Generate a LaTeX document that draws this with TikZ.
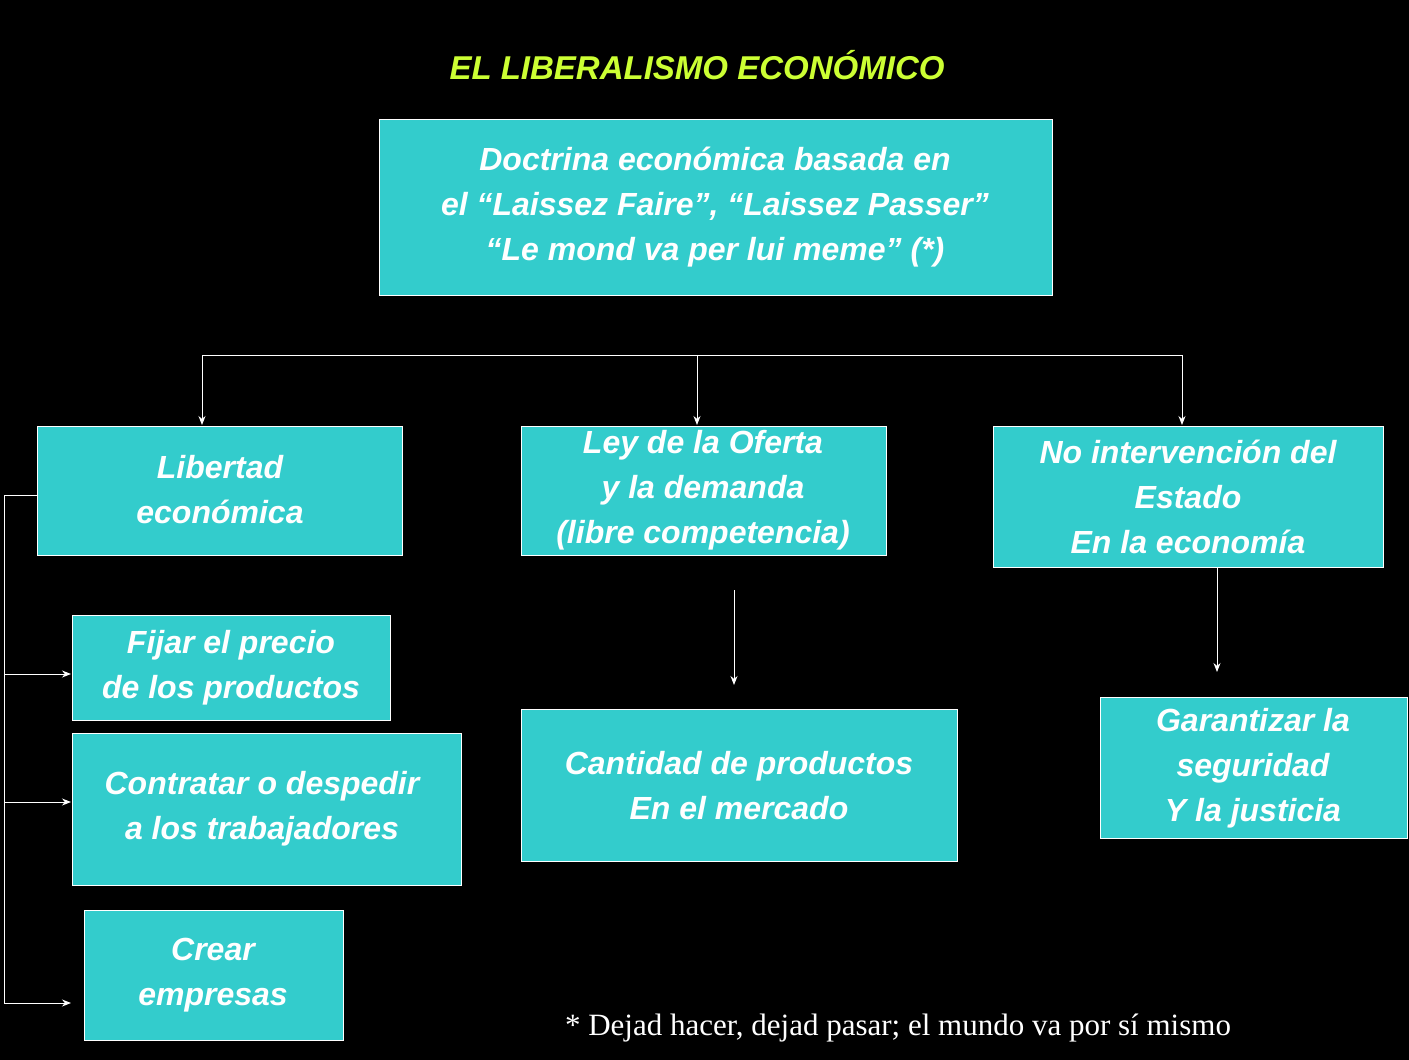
\documentclass[tikz,border=0pt]{standalone}
\usepackage{fontspec}
\setmainfont{Liberation Sans}
\newfontfamily\serifx{Liberation Serif}
\usetikzlibrary{arrows.meta}
\definecolor{boxc}{HTML}{33CCCC}
\definecolor{titc}{HTML}{CCFF33}
\begin{document}
\begin{tikzpicture}[x=1pt,y=-1pt,
  bx/.style={draw=white,line width=1pt,fill=boxc},
  tx/.style={text=white,font=\fontsize{32}{45}\selectfont\bfseries\itshape,align=center},
  ar/.style={draw=white,line width=1pt,-{Stealth[length=9pt,width=7pt]}},
  ln/.style={draw=white,line width=1pt}]
\fill[black] (0,0) rectangle (1409,1060);
\useasboundingbox (0,0) rectangle (1409,1060);
\node[text=titc,font=\fontsize{33}{40}\selectfont\bfseries\itshape] (title) at (697,65) {EL LIBERALISMO ECONÓMICO};
\path[bx] (379,119) rectangle (1052,295); \node[tx] (top) at (715,207) {Doctrina económica basada en\\el “Laissez Faire”, “Laissez Passer”\\“Le mond va per lui meme” (*)};
\path[bx] (37,426) rectangle (402,555); \node[tx] (lib) at (220,490) {Libertad\\económica};
\path[bx] (521,426) rectangle (886,555); \node[tx] (ley) at (703,490) {Ley de la Oferta\\y la demanda\\(libre competencia)};
\path[bx] (993,426) rectangle (1383,567); \node[tx] (noi) at (1188,497) {No intervención del\\Estado\\En la economía};
\path[bx] (72,615) rectangle (390,720); \node[tx] (fij) at (231,668) {Fijar el precio\\de los productos};
\path[bx] (72,733) rectangle (461,885); \node[tx] (con) at (262,809) {Contratar o despedir\\a los trabajadores};
\path[bx] (84,910) rectangle (343,1040); \node[tx] (cre) at (213,975) {Crear\\empresas};
\path[bx] (521,709) rectangle (957,861); \node[tx] (can) at (739,786) {Cantidad de productos\\En el mercado};
\path[bx] (1100,697) rectangle (1407,838); \node[tx] (gar) at (1253,768) {Garantizar la\\seguridad\\Y la justicia};
\coordinate (bl) at (202,355); \coordinate (br) at (1182,355); \coordinate (bm) at (697,355);
\draw[ln] (bl) -- (br);
\draw[ar] (bl) -- (202,425);
\draw[ar] (bm) -- (697,425);
\draw[ar] (br) -- (1182,425);
\coordinate (lb) at (4,495);
\draw[ln] (37,495) -- (lb) -- (4,1003);
\draw[ar] (4,674) -- (71,674);
\draw[ar] (4,802) -- (71,802);
\draw[ar] (4,1003) -- (71,1003);
\draw[ar] (734,590) -- (734,685);
\draw[ar] (1217,567) -- (1217,672);
\node[text=white,font=\serifx\fontsize{31}{36}\selectfont] (foot) at (898,1028) {* Dejad hacer, dejad pasar; el mundo va por sí mismo};
\end{tikzpicture}
\end{document}
